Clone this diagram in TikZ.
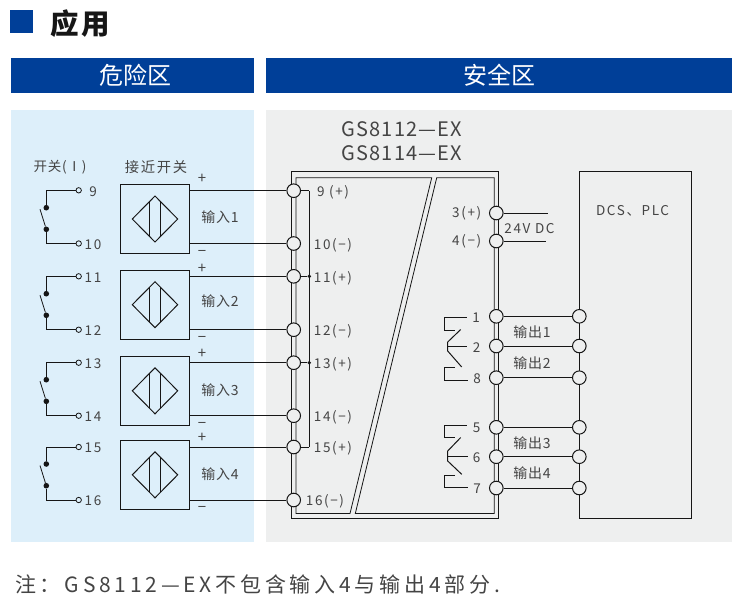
\documentclass[tikz,border=0pt]{standalone}
\usepackage{fontspec}
\setmainfont{Noto Sans CJK SC}
\newfontfamily\spc[LetterSpace=6]{Noto Sans CJK SC}
\newfontfamily\spl[LetterSpace=12]{Noto Sans CJK SC}
\newfontfamily\spw[LetterSpace=18]{Noto Sans CJK SC}
\definecolor{hdrblue}{HTML}{003F98}
\definecolor{panelblue}{HTML}{DDEFFA}
\definecolor{panelgray}{HTML}{EEEFEF}
\definecolor{txt}{HTML}{444444}
\definecolor{ink}{HTML}{161616}
\tikzset{
  wire/.style={draw=ink,line width=1pt},
  term/.style={circle,draw=ink,line width=1pt,fill=panelgray,minimum size=13.6pt,inner sep=0pt},
  smallterm/.style={circle,draw=ink,line width=0.8pt,fill=panelblue,minimum size=5.4pt,inner sep=0pt},
  blob/.style={circle,fill=ink,minimum size=5.6pt,inner sep=0pt},
  tinyblob/.style={circle,fill=ink,minimum size=3.8pt,inner sep=0pt},
  lbl/.style={inner sep=0pt,text=txt,font=\spl\fontsize{13.5}{14}\selectfont},
  inlbl/.style={inner sep=0pt,text=txt,font=\spc\fontsize{14}{14}\selectfont},
  sign/.style={inner sep=0pt,text=txt,font=\fontsize{15}{15}\selectfont},
  sensor/.style={draw=ink,line width=1pt,fill=panelblue,minimum width=69.4pt,minimum height=68.8pt,inner sep=0pt},
  hdr/.style={fill=hdrblue,inner sep=0pt,text=white,font=\fontsize{24}{24}\selectfont},
  panel/.style={inner sep=0pt}
}
\begin{document}
\begin{tikzpicture}[x=1pt,y=-1pt]
\useasboundingbox (0,0) rectangle (749,606);
% title
\node[fill=hdrblue,minimum size=23pt,inner sep=0pt] (sq) at (21.5,21.5) {};
\node[inner sep=0pt,text=ink,font=\bfseries\fontsize{28.5}{29}\selectfont] (ttl) at (80,24) {\addfontfeature{LetterSpace=8}应用};
% headers
\node[hdr,minimum width=243pt,minimum height=35pt] (h1) at (132.5,75.5) {\hspace{5pt}危险区};
\node[hdr,minimum width=466pt,minimum height=35pt] (h2) at (499,75.5) {安全区};
% panels
\node[panel,fill=panelblue,minimum width=243pt,minimum height=432pt] (pb) at (132.5,326) {};
\node[panel,fill=panelgray,minimum width=466pt,minimum height=432pt] (pg) at (499,326) {};
% model names
\node[inner sep=0pt,text=txt,font=\spc\fontsize{20}{20}\selectfont] (m1) at (402,129) {GS8112—EX};
\node[inner sep=0pt,text=txt,font=\spc\fontsize{20}{20}\selectfont] (m2) at (402,153) {GS8114—EX};
% module
\draw[wire] (291.7,171.5) rectangle (498.2,518);
\draw[wire,line width=0.8pt] (296,177.8) -- (431.7,177.8) -- (350,513.5) -- (296,513.5) -- cycle;
\draw[wire,line width=0.8pt] (436.7,177.8) -- (494.3,177.8) -- (494.3,513.5) -- (355.3,513.5) -- cycle;
% DCS box
\draw[wire] (579.3,171.7) rectangle (691.7,518.3);
\node[lbl] (dcs) at (632.5,210.5) {DCS、PLC};
% left bus
\coordinate (busA) at (309.3,190.7);
\coordinate (busB) at (309.3,447);
\draw[wire] (busA) -- (busB);
% sensors, switches, terminals
\foreach \i/\ta/\tb/\ya/\yb/\da/\db/\cy/\py/\my/\lx/\ly/\na/\nb/\nla/\nlb/\wl in {
 1/190.7/243.5/190.3/243.5/207.7/229.3/219/179/253/220/217/9/10/{9\,\,(+)}/{10(−)}/1,
 2/276.3/329.7/276.3/329.7/293.7/315.3/304.7/269/339/220/301/11/12/{11(+)}/{12(−)}/2,
 3/362.7/415.7/362.7/415.7/379.7/401.3/390.8/354/425/220/390/13/14/{13(+)}/{14(−)}/3,
 4/447/500/447/500/464/485.7/474.8/438/509/220/474/15/16/{15(+)}/{16(−)}/4}{
  \node[sensor] (s\i) at (155,\cy) {};
  \coordinate (dT\i) at (155,\cy-23);
  \coordinate (dB\i) at (155,\cy+23);
  \coordinate (dL\i) at (132.3,\cy);
  \coordinate (dR\i) at (177.7,\cy);
  \draw[wire] (dT\i) -- (dR\i) -- (dB\i) -- (dL\i) -- cycle;
  \draw[wire] (149.5,\cy-17.5) -- (149.5,\cy+17.5);
  \draw[wire] (160.5,\cy-17.5) -- (160.5,\cy+17.5);
  \node[term] (a\i) at (293.7,\ta) {};
  \node[term] (b\i) at (293.7,\tb) {};
  \coordinate (wa\i) at (s\i.east |- a\i);
  \coordinate (wb\i) at (s\i.east |- b\i);
  \draw[wire] (wa\i) -- (a\i);
  \draw[wire] (wb\i) -- (b\i);
  \node[sign] (pl\i) at (202,\py) {+};
  \node[sign] (mi\i) at (202,\my) {−};
  \node[inlbl] (in\i) at (\lx,\ly) {输入\wl};
  % switch
  \node[smallterm] (ta\i) at (78.7,\ya) {};
  \node[smallterm] (tb\i) at (78.7,\yb) {};
  \node[blob] (da\i) at (46.3,\da) {};
  \node[blob] (db\i) at (46.3,\db) {};
  \coordinate (bl\i) at (40,\da+1.5);
  \draw[wire] (ta\i) -| (da\i);
  \draw[wire] (tb\i) -| (db\i);
  \draw[wire,line width=0.8pt] (db\i) -- (bl\i);
  \node[lbl] (ntA\i) at (93,\ya+1) {\na};
  \node[lbl] (ntB\i) at (93,\yb+1) {\nb};
  \node[lbl] (nA\i) at (333,\ta+1.5) {\nla};
  \ifnum\i=4
    \node[lbl] (nB\i) at (325,\tb+1) {\nlb};
  \else
    \node[lbl] (nB\i) at (333,\tb+1.5) {\nlb};
  \fi
}
\node[tinyblob] (j11) at (309.3,276.3) {};
\node[tinyblob] (j13) at (309.3,362.7) {};
\draw[wire] (a1) -- (busA);
\draw[wire] (a4) -- (busB);
\draw[wire] (a2) -- (j11);
\draw[wire] (a3) -- (j13);
\node[lbl,font=\spc\fontsize{13.5}{14}\selectfont] (c1) at (60,167) {开关(Ⅰ)};
\node[lbl,font=\spl\fontsize{14.3}{15}\selectfont] (c2) at (156,167) {接近开关};
% right terminals
\foreach \n/\y in {p3/213,p4/241,o1/316.3,o2/346,o8/377.7,o5/427.3,o6/456.7,o7/488}{
  \node[term] (\n) at (496.3,\y) {};
}
\foreach \n/\y in {o1/316.3,o2/346,o8/377.7,o5/427.3,o6/456.7,o7/488}{
  \node[term] (d\n) at (579.3,\y) {};
  \draw[wire] (\n) -- (d\n);
}
\coordinate (vp) at (547.7,213);
\coordinate (vm) at (546,241);
\draw[wire] (p3) -- (vp);
\draw[wire] (p4) -- (vm);
\node[lbl] (v24) at (529.5,228.5) {24V DC};
\node[lbl] (lp3) at (466.7,213.5) {3(+)};
\node[lbl] (lp4) at (466.7,241.5) {4(−)};
\foreach \n/\x/\y/\t in {l1/476/318/1,l2/476.5/347.5/2,l8/477/379/8,l5/476.5/428/5,l6/476.5/458/6,l7/477/489/7}{
  \node[lbl] (\n) at (\x,\y) {\t};
}
\node[inlbl] (oA) at (532,332.5) {输出1};
\node[inlbl] (oB) at (532,363) {输出2};
\node[inlbl] (oC) at (532,443) {输出3};
\node[inlbl] (oD) at (532,473) {输出4};
% relay contacts
\draw[wire] (466.7,317.3) -- (444.7,317.3) -- (444.7,330.5) -- (455,330.5);
\draw[wire] (460.7,329.5) -- (447.7,342) -- (447.7,351) -- (461.7,367);
\draw[wire] (447.7,346) -- (466.7,346);
\draw[wire] (455,367.3) -- (444.7,367.3) -- (444.7,380) -- (468,380);
\draw[wire] (466.7,425.7) -- (444.7,425.7) -- (444.7,437.5) -- (455,437.5);
\draw[wire] (460.7,437.5) -- (447.7,451) -- (447.7,461) -- (461.7,474.3);
\draw[wire] (447.7,456.7) -- (468,456.7);
\draw[wire] (455,475.7) -- (444.7,475.7) -- (444.7,487.5) -- (468,487.5);
% note
\node[inner sep=0pt,anchor=west,text=txt,font=\spw\fontsize{21}{21}\selectfont] (note) at (15,584.5) {注：GS8112—EX不包含输入4与输出4部分.};
\end{tikzpicture}
\end{document}
